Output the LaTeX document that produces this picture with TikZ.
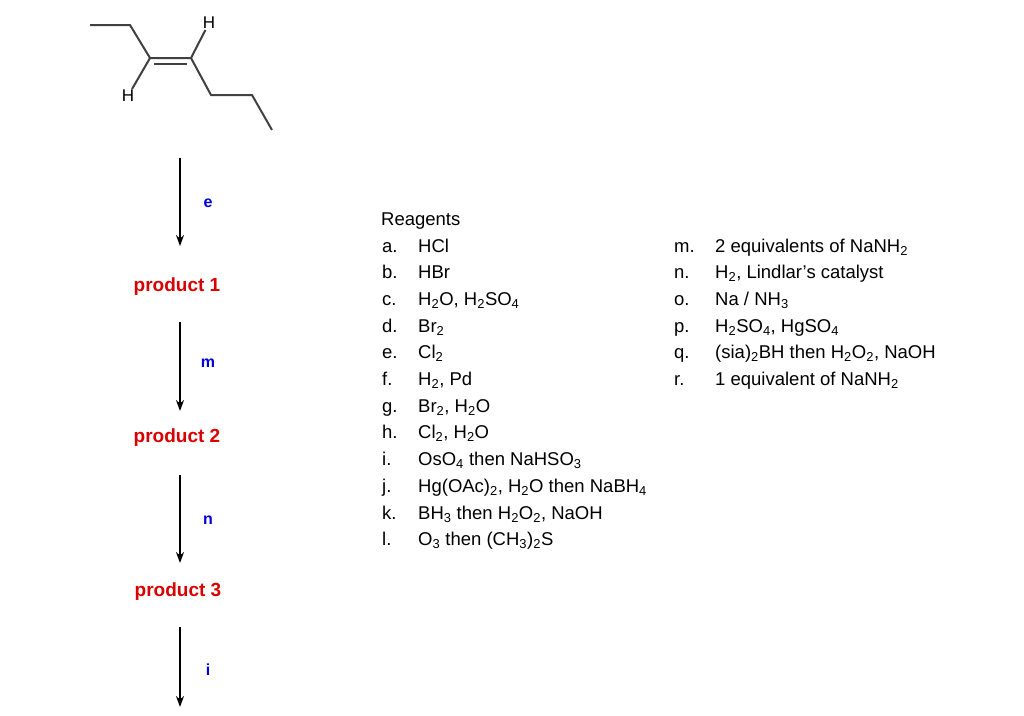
\documentclass[tikz,border=0pt]{standalone}
\usepackage{fontspec}
\setmainfont{Liberation Sans}
\usetikzlibrary{arrows.meta}
\newcommand{\sbs}[1]{\textsubscript{#1}}
\begin{document}
\begin{tikzpicture}[x=1pt,y=-1pt,
  bond/.style={line width=2pt,draw=black!75},
  rxn/.style={-{Stealth[length=11pt,width=8pt]},line width=1.6pt},
  prod/.style={text=red!85!black,font=\fontsize{19}{22}\selectfont\bfseries},
  lab/.style={text=blue!85!black,font=\fontsize{16}{19}\selectfont\bfseries},
  txt/.style={anchor=base west,inner sep=0pt,font=\fontsize{18.5}{22}\selectfont},
  hh/.style={font=\fontsize{17}{19}\selectfont,inner sep=1pt}]
\useasboundingbox (0,0) rectangle (1024,715);
% molecule
\coordinate (p1) at (90,25); \coordinate (p2) at (130,25);
\coordinate (p3) at (150,58); \coordinate (p4) at (191,58);
\coordinate (p5) at (211,95); \coordinate (p6) at (252,95);
\coordinate (p7) at (272,130);
\coordinate (a1) at (154,64); \coordinate (a2) at (187,64);
\draw[bond] (p1)--(p2)--(p3)--(p4)--(p5)--(p6)--(p7);
\draw[bond] (a1)--(a2);
\node[hh] (h1) at (128,96) {H};
\node[hh] (h2) at (209,23) {H};
\draw[bond] (p3)--(h1);
\draw[bond] (p4)--(h2);
% steps
\coordinate (s1) at (180,158); \coordinate (t1) at (180,246);
\draw[rxn] (s1)--(t1);
\node[lab] (le) at (208,203) {e};
\node[prod] (pr1) at (177,287) {product 1};
\coordinate (s2) at (180,322); \coordinate (t2) at (180,411);
\draw[rxn] (s2)--(t2);
\node[lab] (lm) at (208,363) {m};
\node[prod] (pr2) at (177,438) {product 2};
\coordinate (s3) at (180,475); \coordinate (t3) at (180,563);
\draw[rxn] (s3)--(t3);
\node[lab] (ln) at (208,520) {n};
\node[prod] (pr3) at (178,592) {product 3};
\coordinate (s4) at (180,627); \coordinate (t4) at (180,707);
\draw[rxn] (s4)--(t4);
\node[lab] (li) at (208,670) {i};
% reagents
\node[txt] (rg) at (381,225) {Reagents};
\foreach \l/\t [count=\k from 0] in {a./HCl,b./HBr,c./{H\sbs{2}O, H\sbs{2}SO\sbs{4}},d./Br\sbs{2},e./Cl\sbs{2},f./{H\sbs{2}, Pd},g./{Br\sbs{2}, H\sbs{2}O},h./{Cl\sbs{2}, H\sbs{2}O},i./OsO\sbs{4} then NaHSO\sbs{3},j./{Hg(OAc)\sbs{2}, H\sbs{2}O then NaBH\sbs{4}},k./{BH\sbs{3} then H\sbs{2}O\sbs{2}, NaOH},l./O\sbs{3} then (CH\sbs{3})\sbs{2}S}{
  \node[txt] (L\k) at (382,252+26.7*\k) {\l};
  \node[txt] (T\k) at (418,252+26.7*\k) {\t};
}
\foreach \l/\t [count=\k from 0] in {m./2 equivalents of NaNH\sbs{2},n./{H\sbs{2}, Lindlar's catalyst},o./{Na / NH\sbs{3}},p./{H\sbs{2}SO\sbs{4}, HgSO\sbs{4}},q./{(sia)\sbs{2}BH then H\sbs{2}O\sbs{2}, NaOH},r./1 equivalent of NaNH\sbs{2}}{
  \node[txt] (R\k) at (674,252+26.7*\k) {\l};
  \node[txt] (U\k) at (715,252+26.7*\k) {\t};
}
\end{tikzpicture}
\end{document}
